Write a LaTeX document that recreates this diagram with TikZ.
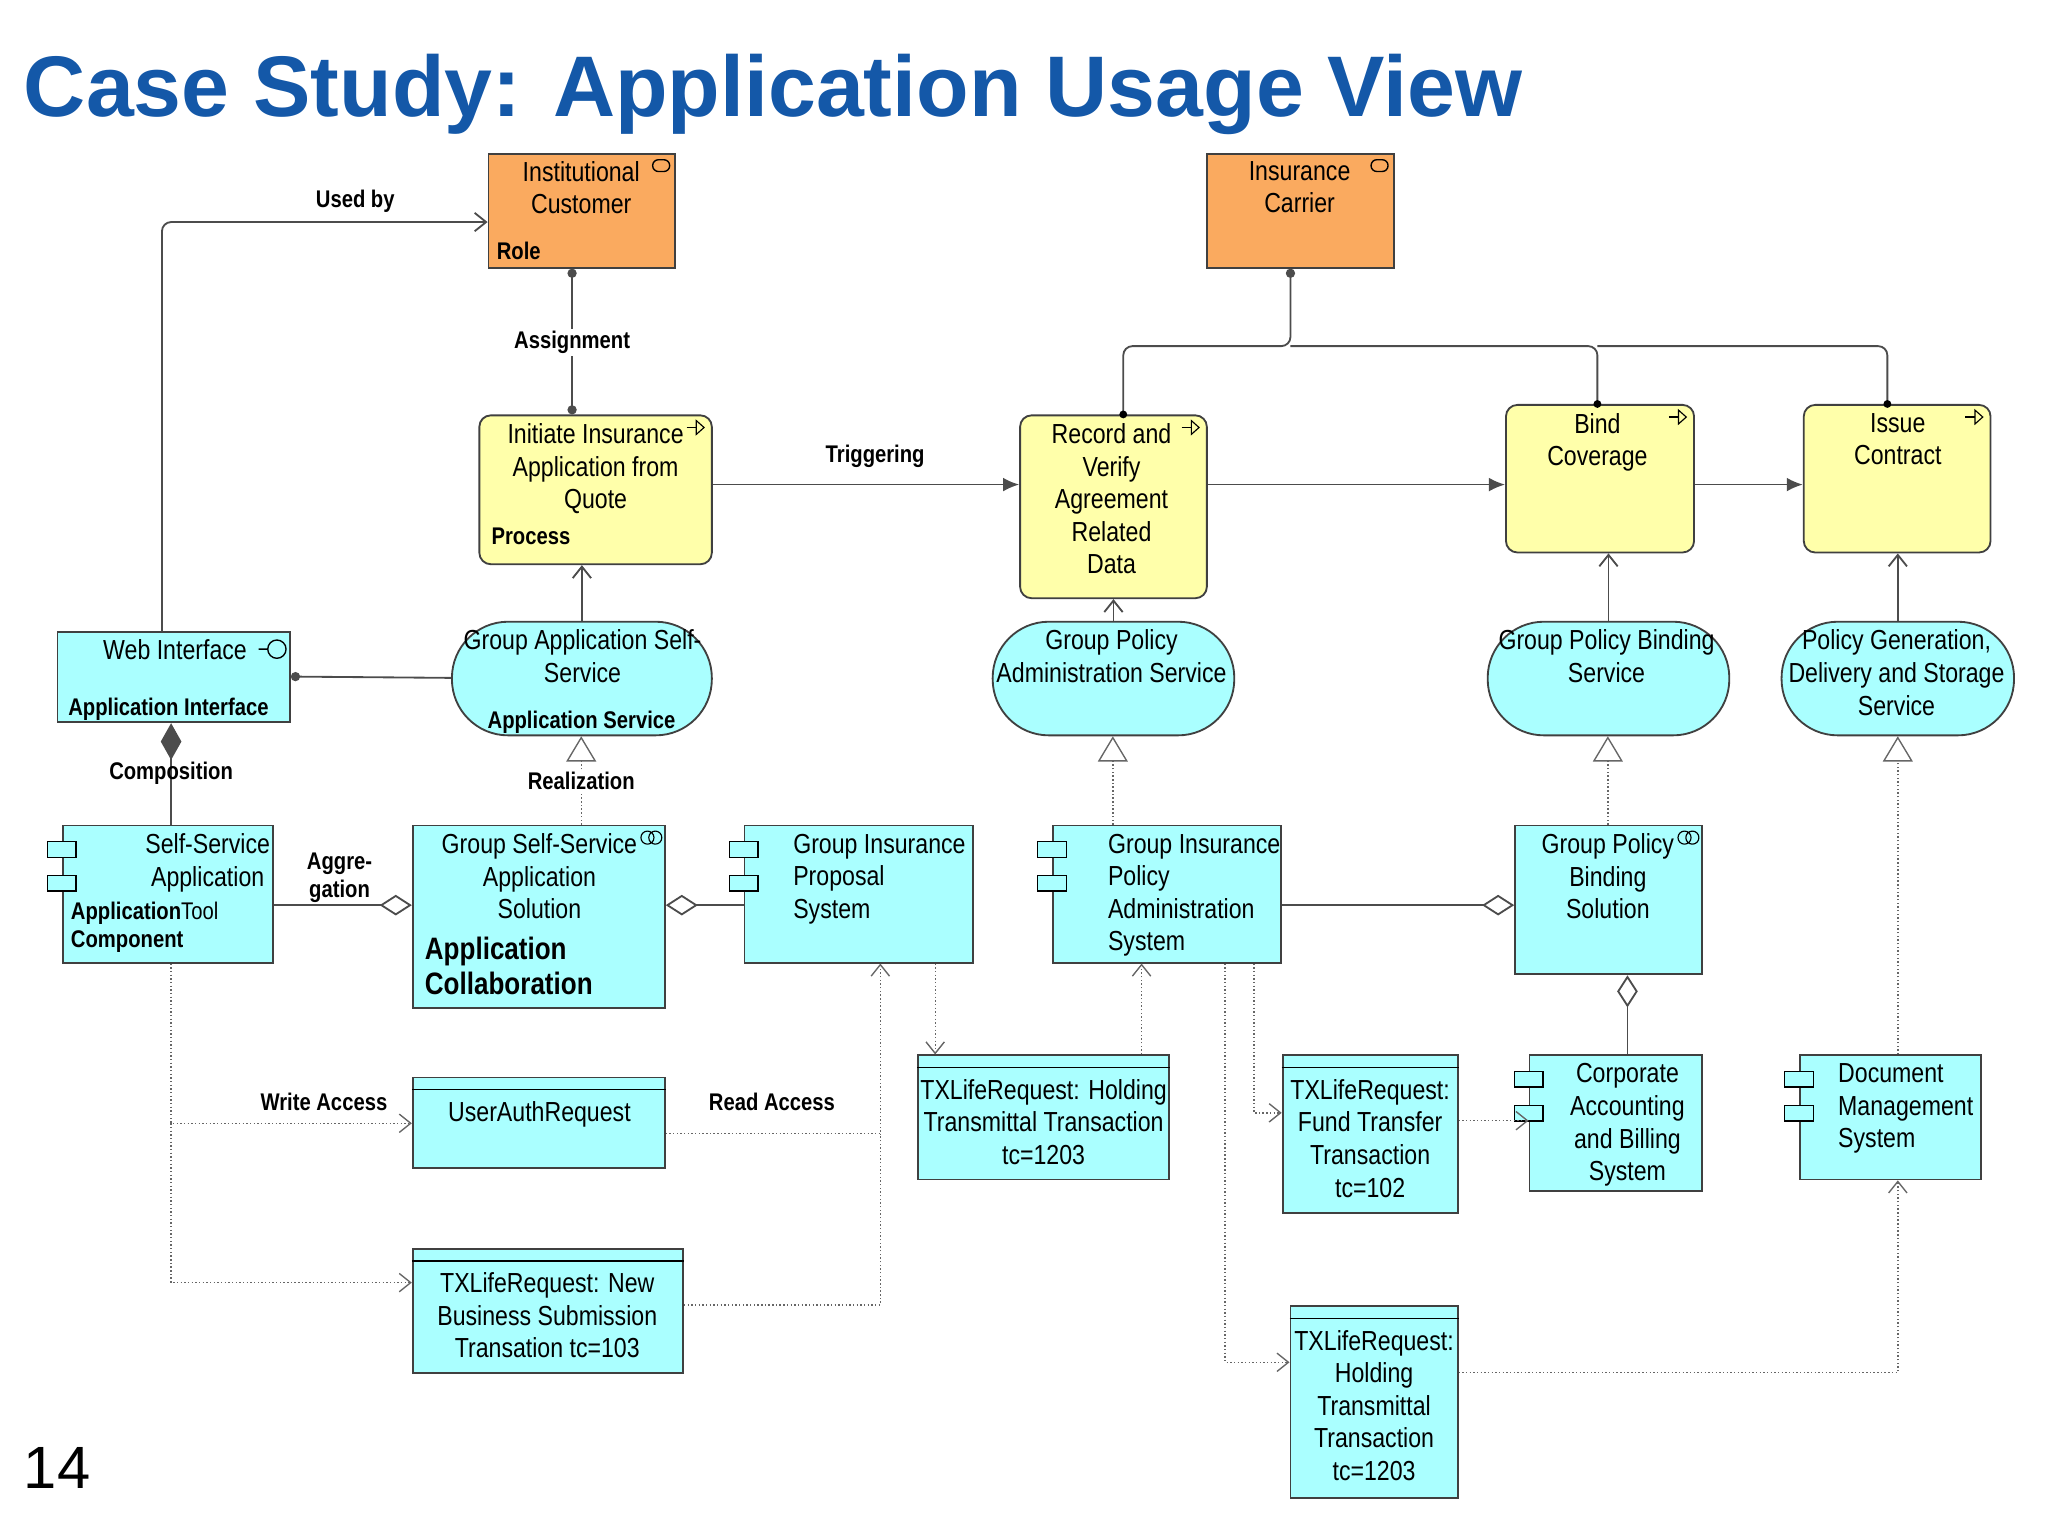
\documentclass[tikz,border=0pt]{standalone}
\usepackage{fontspec}
\setmainfont{Liberation Sans}[FakeStretch=0.84]
\newfontfamily\titlefont{Liberation Sans}
\usetikzlibrary{arrows.meta,fit,calc}
\definecolor{roleC}{RGB}{250,170,95}
\definecolor{procC}{RGB}{255,255,170}
\definecolor{appC}{RGB}{170,255,255}
\definecolor{titleC}{RGB}{20,88,168}
\begin{document}
\begin{tikzpicture}[x=0.02cm,y=-0.02cm,
  box/.style={draw=black!75, line width=0.8pt, inner sep=0pt},
  role/.style={box, fill=roleC},
  proc/.style={box, fill=procC, rounded corners=5pt},
  app/.style={box, fill=appC},
  svc/.style={box, fill=appC, rounded corners=0.86cm},
  txt/.style={font=\fontsize{12}{14.2}\selectfont, align=center, inner sep=0pt, anchor=north},
  ltxt/.style={txt, align=left, anchor=north west},
  bl/.style={font=\fontsize{10.5}{12.4}\selectfont\bfseries, align=left, inner sep=0pt, anchor=north west},
  cl/.style={font=\fontsize{10.5}{12}\selectfont\bfseries, inner sep=1pt},
  ln/.style={draw=black!70, line width=0.8pt},
  dt/.style={draw=black!60, line width=0.6pt, densely dotted},
  open/.style={-{Straight Barb[length=5pt,width=8pt]}},
  fill arr/.style={-{Latex[length=7pt,width=6pt]}},
  real/.style={-{Triangle[open,length=11pt,width=13pt,fill=white]}},
  aggr/.style={-{Diamond[open,length=14pt,width=9pt,fill=white]}},
  dot/.style={{Circle[length=4pt]}-{Circle[length=4pt]}},
]
\useasboundingbox (0,0) rectangle (1568,1176);
\node[font=\titlefont\fontsize{37.5}{40}\selectfont\bfseries, text=titleC, anchor=base west, inner sep=0pt] (title) at (18,89) {Case Study: Application Usage View};
\node[font=\titlefont\fontsize{26}{28}\selectfont, anchor=base west, inner sep=0pt] (pg) at (18,1140) {14};

% business layer
\node[role, fit={(374,118)(517,205)}] (inst) {};
\node[txt] (instT) at (445,123) {Institutional\\Customer};
\node[bl] (instB) at (380,185) {Role};
\node[role, fit={(924,118)(1067,205)}] (carr) {};
\node[txt] (carrT) at (995,123) {Insurance\\Carrier};
\foreach \n in {inst,carr}
  \draw[line width=0.6pt, rounded corners=2.5pt] ($(\n.north east)+(-18,5)$) rectangle ++(13,9);

\node[proc, fit={(367,318)(545,432)}] (ini) {};
\node[txt] (iniT) at (456,324) {Initiate Insurance\\Application from\\Quote};
\node[bl] (iniB) at (376,404) {Process};
\node[proc, fit={(781,318)(924,458)}] (rec) {};
\node[txt] (recT) at (851,324) {Record and\\Verify\\Agreement\\Related\\Data};
\node[proc, fit={(1153,310)(1297,423)}] (bind) {};
\node[txt] (bindT) at (1223,316) {Bind\\Coverage};
\node[proc, fit={(1381,310)(1524,423)}] (iss) {};
\node[txt] (issT) at (1453,316) {Issue\\Contract};
\foreach \n in {ini,rec,bind,iss}
  \draw[line width=0.5pt, -{Triangle[open,length=4pt,width=7pt]}] ($(\n.north east)+(-20,10)$) -- ++(14,0);

% application services / interface
\node[app, fit={(44,484)(222,553)}] (web) {};
\node[txt] (webT) at (134,489) {Web Interface};
\node[bl] (webB) at (52,534) {Application Interface};
\draw[line width=0.6pt] (198,497) -- (205,497) (212,497) circle (7);
\node[svc, fit={(346,476)(545,563)}] (gass) {};
\node[txt] (gassT) at (446,482) {Group Application Self-\\Service};
\node[bl] (gassB) at (373,544) {Application Service};
\node[svc, fit={(760,476)(945,563)}] (gpas) {};
\node[txt] (gpasT) at (851,482) {Group Policy\\Administration Service};
\node[svc, fit={(1139,476)(1324,563)}] (gpbs) {};
\node[txt] (gpbsT) at (1230,482) {Group Policy Binding\\Service};
\node[svc, fit={(1364,476)(1542,563)}] (pgds) {};
\node[txt] (pgdsT) at (1452,482) {Policy Generation,\\Delivery and Storage\\Service};

% application components
\node[app, fit={(48,632)(209,737)}] (ssa) {};
\node[txt] (ssaT) at (159,638) {Self-Service\\Application};
\node[bl] (ssaB) at (54,690) {Application{\mdseries Tool}\\Component};
\node[app, fit={(316,632)(509,772)}] (gsas) {};
\node[txt] (gsasT) at (413,638) {Group Self-Service\\Application\\Solution};
\node[bl, font=\fontsize{13.5}{15.2}\selectfont\bfseries] (gsasB) at (325,717) {Application\\Collaboration};
\node[app, fit={(570,632)(745,737)}] (gips) {};
\node[ltxt] (gipsT) at (607,638) {Group Insurance\\Proposal\\System};
\node[app, fit={(806,632)(981,737)}] (gipa) {};
\node[ltxt] (gipaT) at (848,638) {Group Insurance\\Policy\\Administration\\System};
\node[app, fit={(1160,632)(1303,746)}] (gpbsol) {};
\node[txt] (gpbsolT) at (1231,638) {Group Policy\\Binding\\Solution};
\node[app, fit={(1171,808)(1303,912)}] (cab) {};
\node[txt] (cabT) at (1246,814) {Corporate\\Accounting\\and Billing\\System};
\node[app, fit={(1378,808)(1517,903)}] (dms) {};
\node[ltxt] (dmsT) at (1407,814) {Document\\Management\\System};
\foreach \n in {ssa,gips,gipa,cab,dms} {
  \draw[line width=0.6pt, fill=appC] ($(\n.north west)+(-11,13)$) rectangle ++(22,12);
  \draw[line width=0.6pt, fill=appC] ($(\n.north west)+(-11,39)$) rectangle ++(22,12);
}
\foreach \n in {gsas,gpbsol}
  \draw[line width=0.5pt] ($(\n.north east)+(-14,10)$) circle (5) ++(6,0) circle (5);

% data objects
\node[app, fit={(316,825)(509,894)}] (uar) {};
\node[txt] (uarT) at (413,843) {UserAuthRequest};
\node[app, fit={(703,808)(895,903)}] (txh) {};
\node[txt] (txhT) at (799,826) {TXLifeRequest: Holding\\Transmittal Transaction\\tc=1203};
\node[app, fit={(982,808)(1116,929)}] (txf) {};
\node[txt] (txfT) at (1049,826) {TXLifeRequest:\\Fund Transfer\\Transaction\\tc=102};
\node[app, fit={(316,956)(523,1051)}] (txn) {};
\node[txt] (txnT) at (419,974) {TXLifeRequest: New\\Business Submission\\Transation tc=103};
\node[app, fit={(988,1000)(1116,1147)}] (txh2) {};
\node[txt] (txh2T) at (1052,1018) {TXLifeRequest:\\Holding\\Transmittal\\Transaction\\tc=1203};
\foreach \n in {uar,txh,txf,txn,txh2}
  \draw[line width=0.6pt] ($(\n.north west)+(0,10)$) -- ($(\n.north east)+(0,10)$);

% connectors
\draw[ln, open, rounded corners=4pt] (web.north -| 124,0) -- (124,170) -- (inst.west |- 0,170);
\node[cl] (usedby) at (272,154) {Used by};
\draw[ln, dot] (inst.south -| 438,0) -- (ini.north -| 438,0);
\node[cl, fill=white] (assign) at (438,262) {Assignment};
\draw[ln, {Circle[length=4pt]}-, rounded corners=4pt] (carr.south -| 988,0) -- (988,265) -- (860,265) -- (rec.north -| 860,0);
\draw[ln, rounded corners=4pt] (988,265) -- (1223,265) -- (bind.north -| 1223,0);
\draw[ln, rounded corners=4pt] (1223,265) -- (1445,265) -- (iss.north -| 1445,0);
\foreach \x/\n in {860/rec,1223/bind,1445/iss} \fill (\n.north -| \x,0) circle (3);
\draw[ln, fill arr] (ini.east |- 0,371) -- (rec.west |- 0,371);
\node[cl] (trig) at (670,349) {Triggering};
\draw[ln, fill arr] (rec.east |- 0,371) -- (bind.west |- 0,371);
\draw[ln, fill arr] (bind.east |- 0,371) -- (iss.west |- 0,371);

\draw[ln, open] (gass.north) -- (ini.south -| gass.north);
\draw[ln, open] (gpas.north) -- (rec.south -| gpas.north);
\draw[ln, open] (gpbs.north) -- (bind.south -| gpbs.north);
\draw[ln, open] (pgds.north) -- (iss.south -| pgds.north);
\draw[ln, {Circle[length=4pt]}-] (web.east |- 0,518) -- (gass.west |- 0,519);

\draw[ln, -{Diamond[length=16pt,width=9pt]}] (ssa.north -| 131,0) -- (web.south -| 131,0);
\node[cl] (comp) at (131,592) {Composition};
\draw[dt, real] (gsas.north -| 445,0) -- (gass.south -| 445,0);
\node[cl, fill=white] (realz) at (445,598) {Realization};
\draw[dt, real] (gipa.north -| 852,0) -- (gpas.south -| 852,0);
\draw[dt, real] (gpbsol.north -| 1231,0) -- (gpbs.south -| 1231,0);
\draw[dt, real] (dms.north -| 1453,0) -- (pgds.south -| 1453,0);

\draw[ln, aggr] (ssa.east |- 0,693) -- (gsas.west |- 0,693);
\node[cl, align=center] (aggrL) at (260,672) {Aggre-\\gation};
\draw[ln, aggr] (gips.west |- 0,693) -- (gsas.east |- 0,693);
\draw[ln, aggr] (gipa.east |- 0,693) -- (gpbsol.west |- 0,693);
\draw[ln, aggr] (cab.north -| 1246,0) -- (gpbsol.south -| 1246,0);

\draw[dt, open] (ssa.south -| 131,0) -- (131,860) -- (uar.west |- 0,860);
\node[cl] (wa) at (248,844) {Write Access};
\draw[dt, open] (131,860) -- (131,982) -- (txn.west |- 0,982);
\draw[dt, open] (uar.east |- 0,868) -- (674,868) -- (gips.south -| 674,0);
\node[cl] (ra) at (591,844) {Read Access};
\draw[dt] (txn.east |- 0,999) -- (674,999) -- (674,868);
\draw[dt, open] (gips.south -| 716,0) -- (716,790) -- (txh.north -| 716,0);
\draw[dt, open] (txh.north -| 874,0) -- (gipa.south -| 874,0);
\draw[dt, open] (gipa.south -| 960,0) -- (960,852) -- (txf.west |- 0,852);
\draw[dt, open] (gipa.south -| 938,0) -- (938,1043) -- (txh2.west |- 0,1043);
\draw[dt, open] (txf.east |- 0,858) -- (cab.west |- 0,858);
\draw[dt, open] (txh2.east |- 0,1051) -- (1453,1051) -- (dms.south -| 1453,0);
\end{tikzpicture}
\end{document}
